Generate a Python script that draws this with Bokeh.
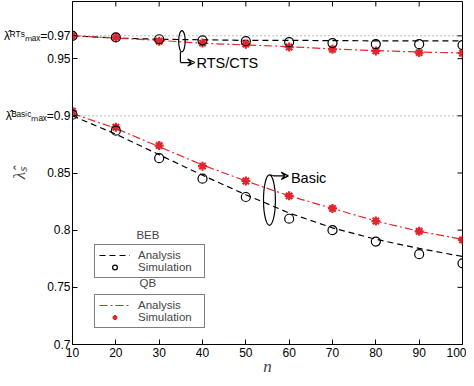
import math
from bokeh.plotting import figure
from bokeh.models import (FixedTicker, Range1d, Legend, LegendItem,
                          Label, Span, Arrow, VeeHead)
from bokeh.embed import file_html
from bokeh.resources import INLINE

# ---------------- data ----------------
n = [10, 20, 30, 40, 50, 60, 70, 80, 90, 100]

# Basic access
beb_basic_analysis = [0.900, 0.884, 0.866, 0.848, 0.831, 0.815, 0.802, 0.792, 0.784, 0.777]
beb_basic_sim      = [0.901, 0.887, 0.863, 0.845, 0.829, 0.810, 0.800, 0.790, 0.779, 0.771]
qb_basic_analysis  = [0.902, 0.889, 0.873, 0.857, 0.843, 0.830, 0.819, 0.808, 0.799, 0.792]
qb_basic_sim       = [0.904, 0.890, 0.874, 0.856, 0.843, 0.830, 0.819, 0.808, 0.799, 0.7915]

# RTS/CTS access
beb_rts_analysis = [0.970, 0.968, 0.967, 0.9665, 0.966, 0.966, 0.9658, 0.9656, 0.9655, 0.9655]
beb_rts_sim      = [0.970, 0.9686, 0.967, 0.966, 0.9653, 0.9644, 0.9636, 0.9627, 0.9627, 0.9619]
qb_rts_analysis  = [0.970, 0.968, 0.966, 0.9635, 0.962, 0.9605, 0.9585, 0.957, 0.9558, 0.955]
qb_rts_sim       = [0.970, 0.9686, 0.9653, 0.9636, 0.9627, 0.9602, 0.9582, 0.9568, 0.9553, 0.9548]

lambda_max = [0.97, 0.9]

x_lim = (10, 100)
y_lim = (0.7, 1.0)
y_ticks = [0.7, 0.75, 0.8, 0.85, 0.9, 0.95, 0.97]
y_tick_labels = {0.7: "0.7", 0.75: "0.75", 0.8: "0.8", 0.85: "0.85",
                 0.9: "λ̂ᴮᵃˢⁱᶜₘₐₓ=0.9", 0.95: "0.95", 0.97: "λ̂ᴿᵀˢₘₐₓ=0.97"}
x_ticks = n

RED = "#e0262c"
FONT = "Liberation Sans"

p = figure(width=466, height=378, x_range=Range1d(*x_lim), y_range=Range1d(*y_lim),
           output_backend="svg", toolbar_location=None,
           min_border_left=72, min_border_right=4, min_border_top=1, min_border_bottom=30)
p.grid.visible = False
p.outline_line_color = "black"
p.outline_line_width = 1
p.background_fill_color = "white"
p.border_fill_color = "white"

# axes
p.xaxis.ticker = FixedTicker(ticks=x_ticks)
p.yaxis.ticker = FixedTicker(ticks=y_ticks)
p.yaxis.major_label_overrides = y_tick_labels
for ax in (p.xaxis[0], p.yaxis[0]):
    ax.major_tick_in = 5
    ax.major_tick_out = 0
    ax.minor_tick_line_color = None
    ax.axis_line_color = "black"
    ax.major_tick_line_color = "black"
    ax.major_label_text_font = FONT
    ax.major_label_text_font_size = "12px"
    ax.major_label_text_color = "black"
p.yaxis.major_label_standoff = 2
p.xaxis.major_label_standoff = 3
p.xaxis.axis_label = "n"
p.xaxis.axis_label_text_font = "Liberation Serif"
p.xaxis.axis_label_text_font_style = "italic"
p.xaxis.axis_label_text_font_size = "17px"
p.xaxis.axis_label_standoff = -3
p.yaxis.axis_label = "λ̂ₛ"
p.yaxis.axis_label_text_font = "Liberation Serif"
p.yaxis.axis_label_text_font_style = "italic"
p.yaxis.axis_label_text_font_size = "17px"
p.yaxis.axis_label_standoff = -28

# inward box ticks on top / right edges (half of each dash is clipped by the frame)
p.scatter(x_ticks, [y_lim[1]] * len(x_ticks), marker="dash", angle=math.pi / 2,
          size=10, line_color="black", line_width=1)
p.scatter([x_lim[1]] * len(y_ticks), y_ticks, marker="dash",
          size=10, line_color="black", line_width=1)

# reference (max) lines
for lm in lambda_max:
    p.add_layout(Span(location=lm, dimension="width", line_color="#777777",
                      line_dash="1 3", line_width=1))

# series
beb_a1 = p.line(n, beb_basic_analysis, line_color="black", line_dash="6 4", line_width=1.2)
p.line(n, beb_rts_analysis, line_color="black", line_dash="6 4", line_width=1.2)
qb_a1 = p.line(n, qb_basic_analysis, line_color=RED, line_dash="8 3 2 3", line_width=1.2)
p.line(n, qb_rts_analysis, line_color=RED, line_dash="8 3 2 3", line_width=1.2)

qb_s1 = p.scatter(n, qb_basic_sim, marker="asterisk", size=9, line_color=RED, line_width=2.2)
p.scatter(n, qb_rts_sim, marker="asterisk", size=9, line_color=RED, line_width=2.2)
beb_s1 = p.scatter(n, beb_basic_sim, marker="circle", size=9, fill_color=None,
                   line_color="black", line_width=1.2)
p.scatter(n, beb_rts_sim, marker="circle", size=9, fill_color=None,
          line_color="black", line_width=1.2)

# group annotations (ellipses + arrows)
p.ellipse(x=[35.25], y=[0.9653], width=1.5, height=0.0186, fill_color=None,
          line_color="black", line_width=1.2)
p.line([34.9, 34.9], [0.9560, 0.9470], line_color="black", line_width=1.2)
p.add_layout(Arrow(end=VeeHead(size=7, line_color="black", line_width=1.2, fill_color=None),
                   x_start=34.9, y_start=0.9466, x_end=38.2, y_end=0.9466,
                   line_color="black", line_width=1.2))
p.add_layout(Label(x=38.6, y=0.9466, text="RTS/CTS", text_font=FONT,
                   text_font_size="14.5px", text_baseline="middle", text_color="black"))

p.ellipse(x=[55.45], y=[0.8263], width=2.75, height=0.0441, fill_color=None,
          line_color="black", line_width=1.2)
p.line([55.7, 56.1, 56.6], [0.8484, 0.8478, 0.8475], line_color="black", line_width=1.2)
p.add_layout(Arrow(end=VeeHead(size=7, line_color="black", line_width=1.2, fill_color=None),
                   x_start=56.5, y_start=0.8475, x_end=59.8, y_end=0.8475,
                   line_color="black", line_width=1.2))
p.add_layout(Label(x=60.4, y=0.8460, text="Basic", text_font=FONT,
                   text_font_size="14.5px", text_baseline="middle", text_color="black"))

# legends
def make_legend(items, loc):
    return Legend(items=items, location=loc, orientation="vertical",
                  label_text_font=FONT, label_text_font_size="11.5px",
                  glyph_width=31, glyph_height=12, label_height=12, spacing=0,
                  padding=4, margin=0, label_standoff=8, label_width=62,
                  border_line_color="black", border_line_width=1,
                  background_fill_color="white", background_fill_alpha=1)

leg1 = make_legend([LegendItem(label="Analysis", renderers=[beb_a1]),
                    LegendItem(label="Simulation", renderers=[beb_s1])], (22, 66))
leg2 = make_legend([LegendItem(label="Analysis", renderers=[qb_a1]),
                    LegendItem(label="Simulation", renderers=[qb_s1])], (22, 16))
p.add_layout(leg1, "center")
p.add_layout(leg2, "center")
p.add_layout(Label(x=27.4, y=0.7955, text="BEB", text_font=FONT, text_font_size="11.5px",
                   text_align="center", text_baseline="middle"))
p.add_layout(Label(x=27.4, y=0.7535, text="QB", text_font=FONT, text_font_size="11.5px",
                   text_align="center", text_baseline="middle"))

open("out.html", "w").write(file_html(p, INLINE))
